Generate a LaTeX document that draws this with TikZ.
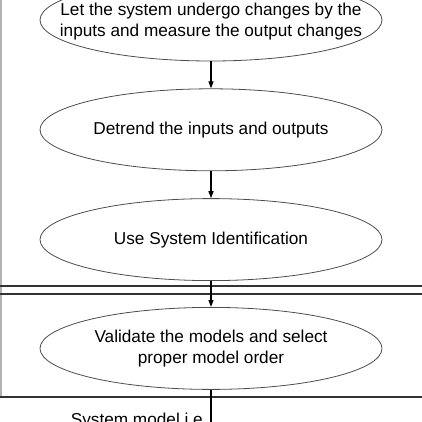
\documentclass[tikz,border=0pt]{standalone}
\usepackage{fontspec}
\setmainfont{Liberation Sans}
\usetikzlibrary{positioning,shapes.geometric,arrows.meta}
\begin{document}
\begin{tikzpicture}[x=1pt,y=-1pt,line join=round,
  stage/.style={ellipse,draw=black!70,line width=0.8pt,minimum width=342pt,minimum height=82pt,inner sep=0pt},
  stagetext/.style={align=center,inner sep=0pt,font=\fontsize{17.2}{21}\selectfont},
  flow/.style={-{Triangle[length=7pt,width=5pt]},line width=1.2pt},
  frame/.style={black!80,line width=1.5pt}]
  \useasboundingbox (0,0) rectangle (422,422);

  % the four stages
  \node[stage] (measure) at (211,20) {};
  \node[stage,below=27pt of measure] (detrend) {};
  \node[stage,below=27pt of detrend] (ident) {};
  \node[stage,below=26pt of ident] (validate) {};

  \node[stagetext] (measure-txt) at ([yshift=-2pt]measure.center) {Let the system undergo changes by the\\inputs and measure the output changes};
  \node[stagetext] (detrend-txt) at (detrend.center) {Detrend the inputs and outputs};
  \node[stagetext] (ident-txt) at (ident.center) {Use System Identification};
  \node[stagetext] (validate-txt) at (validate.center) {Validate the models and select\\proper model order};

  % frame lines
  \draw[black!30,line width=2pt] (1,0) -- (1,397);
  \draw[frame] (0,286) -- (422,286);
  \draw[frame] (0,294) -- (422,294);
  \draw[frame] (0,397) -- (422,397);

  \draw[flow] (measure) -- (detrend);
  \draw[flow] (detrend) -- (ident);
  \draw[flow] (ident) -- (validate);

  \coordinate (model) at (validate.south |- 0,422);
  \draw[line width=1.2pt] (validate) -- (model);
  \node[stagetext,anchor=base east] (model-txt) at (203,425) {System model i.e};

\end{tikzpicture}
\end{document}
